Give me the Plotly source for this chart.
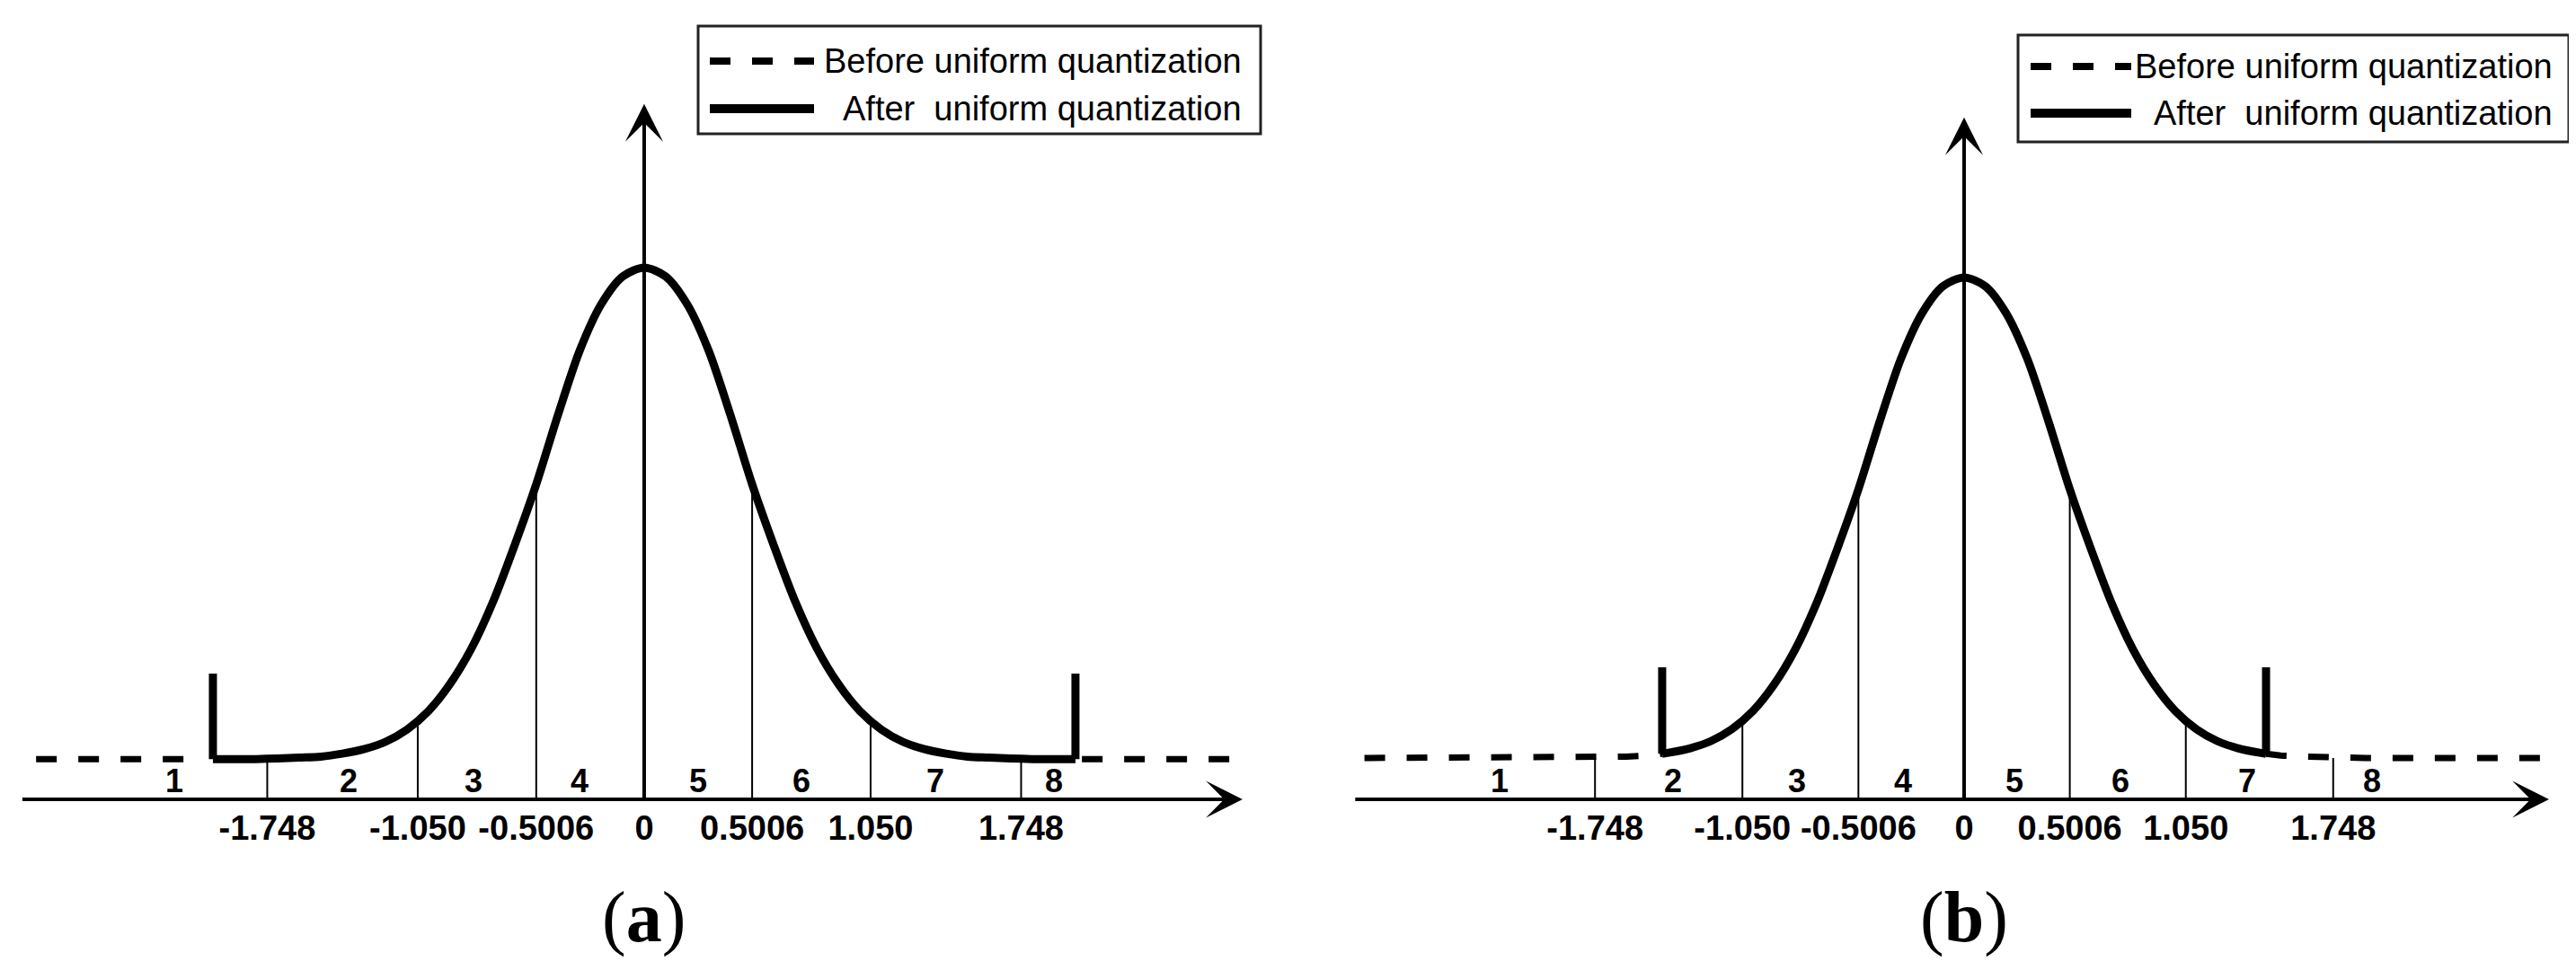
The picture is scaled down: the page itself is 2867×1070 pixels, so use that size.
import plotly.graph_objects as go

# quantization thresholds shown under the axis
tick_values = [-1.748, -1.050, -0.5006, 0, 0.5006, 1.050, 1.748]
tick_labels = ["-1.748", "-1.050", "-0.5006", "0", "0.5006", "1.050", "1.748"]

# thin boundary lines and where they meet the curve
boundaries = [-1.748, -1.050, -0.5006, 0.5006, 1.050, 1.748]
boundary_tops = [0, 0.07, 0.56, 0.56, 0.07, 0]

# interval numbers
region_labels = ["1", "2", "3", "4", "5", "6", "7", "8"]
region_x_a = [-2.18, -1.37, -0.79, -0.30, 0.25, 0.73, 1.35, 1.90]
region_x_b = [-2.20, -1.38, -0.79, -0.29, 0.24, 0.74, 1.34, 1.93]

# bell curve (peak = 1)
curve_x = [-2.0, -1.9, -1.8, -1.7, -1.6, -1.5, -1.4, -1.3, -1.2, -1.1, -1.0,
           -0.9, -0.8, -0.7, -0.6, -0.5, -0.4, -0.3, -0.2, -0.1, 0.0,
           0.1, 0.2, 0.3, 0.4, 0.5, 0.6, 0.7, 0.8, 0.9, 1.0,
           1.1, 1.2, 1.3, 1.4, 1.5, 1.6, 1.7, 1.8, 1.9, 2.0]
curve_y = [0.0, 0.0, 0.0, 0.001, 0.003, 0.005, 0.011, 0.020, 0.035, 0.060, 0.098,
           0.153, 0.226, 0.321, 0.436, 0.560, 0.700, 0.830, 0.925, 0.982, 1.0,
           0.982, 0.925, 0.830, 0.700, 0.560, 0.436, 0.321, 0.226, 0.153, 0.098,
           0.060, 0.035, 0.020, 0.011, 0.005, 0.003, 0.001, 0.0, 0.0, 0.0]

# clipping points of the two quantizers and the step heights there
cut_a = 2.0
cut_b = 1.43
cliff_top_a = 0.174
cliff_top_b = 0.189
foot_b = 0.009

# extent of the dashed "before" tails
tail_a = [(-2.82, -2.13), (2.03, 2.74)]
tail_b = [-2.84, 2.73]

# axis extents
axis_a = (-2.89, 2.775)
axis_b = (-2.89, 2.77)
arrow_top = 1.333
axis_y_a = -0.082
axis_y_b = -0.086

BLACK = "black"
DASH = "23px,24px"
SANS = "Liberation Sans, Arial, sans-serif"

fig = go.Figure()


def add_panel(xa, ya, cut, cliff_top, foot, before_x, before_y, axis_y):
    # solid: the bell curve between the two clipping points
    cx = [x for x in curve_x if abs(x) < cut - 1e-9]
    cy = [y for x, y in zip(curve_x, curve_y) if abs(x) < cut - 1e-9]
    cx = [-cut] + cx + [cut]
    cy = [foot] + cy + [foot]
    fig.add_trace(go.Scatter(x=cx, y=cy, mode="lines", xaxis=xa, yaxis=ya,
                             line=dict(color=BLACK, width=9, shape="spline", smoothing=0.8),
                             showlegend=False, hoverinfo="skip"))
    # the vertical steps at the clipping points
    fig.add_trace(go.Scatter(x=[-cut, -cut, None, cut, cut],
                             y=[cliff_top, foot, None, foot, cliff_top],
                             mode="lines", xaxis=xa, yaxis=ya,
                             line=dict(color=BLACK, width=9),
                             showlegend=False, hoverinfo="skip"))
    # dashed tails
    for bx, by in zip(before_x, before_y):
        fig.add_trace(go.Scatter(x=bx, y=by, mode="lines", xaxis=xa, yaxis=ya,
                                 line=dict(color=BLACK, width=7, dash=DASH),
                                 showlegend=False, hoverinfo="skip"))
    # thin boundary lines
    vx, vy = [], []
    for b, t in zip(boundaries, boundary_tops):
        vx += [b, b, None]
        vy += [axis_y, t, None]
    fig.add_trace(go.Scatter(x=vx, y=vy, mode="lines", xaxis=xa, yaxis=ya,
                             line=dict(color=BLACK, width=2),
                             showlegend=False, hoverinfo="skip"))


# panel (a): flat dashed tails outside +-2
add_panel("x", "y", cut_a, cliff_top_a, 0.0,
          [list(tail_a[0]), list(tail_a[1])], [[0, 0], [0, 0]], axis_y_a)

# panel (b): dashed tails follow the curve down to the clipping point
left_x = [tail_b[0]] + [x for x in curve_x if x <= -1.5] + [-cut_b]
left_y = [0.0] + [y for x, y in zip(curve_x, curve_y) if x <= -1.5] + [foot_b]
right_x = [cut_b] + [x for x in curve_x if x >= 1.5] + [tail_b[1]]
right_y = [foot_b] + [y for x, y in zip(curve_x, curve_y) if x >= 1.5] + [0.0]
add_panel("x2", "y2", cut_b, cliff_top_b, foot_b,
          [left_x, right_x], [left_y, right_y], axis_y_b)

annotations = []
# arrowed axes
for xr, yr, ext, ay in [("x", "y", axis_a, axis_y_a), ("x2", "y2", axis_b, axis_y_b)]:
    annotations.append(dict(xref=xr, yref=yr, axref=xr, ayref=yr,
                            x=ext[1], y=ay, ax=ext[0], ay=ay, text="",
                            showarrow=True, arrowhead=3, arrowsize=1.7,
                            arrowwidth=4, arrowcolor=BLACK))
    annotations.append(dict(xref=xr, yref=yr, axref=xr, ayref=yr,
                            x=0, y=arrow_top, ax=0, ay=ay, text="",
                            showarrow=True, arrowhead=3, arrowsize=1.75,
                            arrowwidth=4, arrowcolor=BLACK))

# interval numbers
for xr, yr, xs, ay in [("x", "y", region_x_a, -0.044), ("x2", "y2", region_x_b, -0.047)]:
    for lab, x in zip(region_labels, xs):
        annotations.append(dict(xref=xr, yref=yr, x=x, y=ay, text=lab,
                                showarrow=False, xanchor="center", yanchor="middle",
                                font=dict(family=SANS, size=36, color=BLACK, weight="bold")))

# panel captions
for xr, lab in [("x", "a"), ("x2", "b")]:
    annotations.append(dict(xref=xr, yref="paper", x=0, y=0.053,
                            text="(<b>%s</b>)" % lab, showarrow=False,
                            xanchor="center", yanchor="middle",
                            font=dict(family="Liberation Serif, Times New Roman, serif",
                                      size=80, color=BLACK)))

# hand-made legends (long line samples like the original)
shapes = []
legend_boxes = [
    # box x0, x1, y0, y1 (px), sample x0, x1, row y's, text right edge
    (769, 1395, 21, 141, 782, 898, 60, 113, 1376),
    (2238, 2851, 31, 150, 2252, 2364, 66, 118, 2835),
]
W, H = 2867, 1070
for bx0, bx1, by0, by1, sx0, sx1, r1, r2, tx in legend_boxes:
    shapes.append(dict(type="rect", xref="paper", yref="paper",
                       x0=bx0 / W, x1=bx1 / W, y0=1 - by1 / H, y1=1 - by0 / H,
                       line=dict(color="#222222", width=3), fillcolor="white"))
    shapes.append(dict(type="line", xref="paper", yref="paper",
                       x0=sx0 / W, x1=sx1 / W, y0=1 - r1 / H, y1=1 - r1 / H,
                       line=dict(color=BLACK, width=8, dash=DASH)))
    shapes.append(dict(type="line", xref="paper", yref="paper",
                       x0=sx0 / W, x1=sx1 / W, y0=1 - r2 / H, y1=1 - r2 / H,
                       line=dict(color=BLACK, width=10)))
    for row, txt in [(r1, "Before uniform quantization"),
                     (r2, "After\u00a0 uniform quantization")]:
        annotations.append(dict(xref="paper", yref="paper", x=tx / W, y=1 - row / H,
                                text=txt, showarrow=False, xanchor="right",
                                yanchor="middle",
                                font=dict(family=SANS, size=38, color=BLACK)))

axis_common = dict(showgrid=False, zeroline=False, showline=False, ticks="",
                   tickvals=tick_values, ticktext=tick_labels,
                   tickfont=dict(family=SANS, size=38, color=BLACK, weight="bold"),
                   ticklabelstandoff=6)

fig.update_layout(
    width=W, height=H,
    margin=dict(l=0, r=0, t=0, b=0),
    paper_bgcolor="white", plot_bgcolor="white",
    showlegend=False,
    xaxis=dict(domain=[0, 0.5], range=[-2.954, 3.019], anchor="y", **axis_common),
    yaxis=dict(domain=[0.1757, 1], range=[axis_y_a, 1.530], visible=False, anchor="x"),
    xaxis2=dict(domain=[0.5, 1], range=[-3.168, 2.932], anchor="y2", **axis_common),
    yaxis2=dict(domain=[0.1757, 1], range=[axis_y_b, 1.5626], visible=False, anchor="x2"),
    annotations=annotations,
    shapes=shapes,
)

fig.write_html("out.html")
